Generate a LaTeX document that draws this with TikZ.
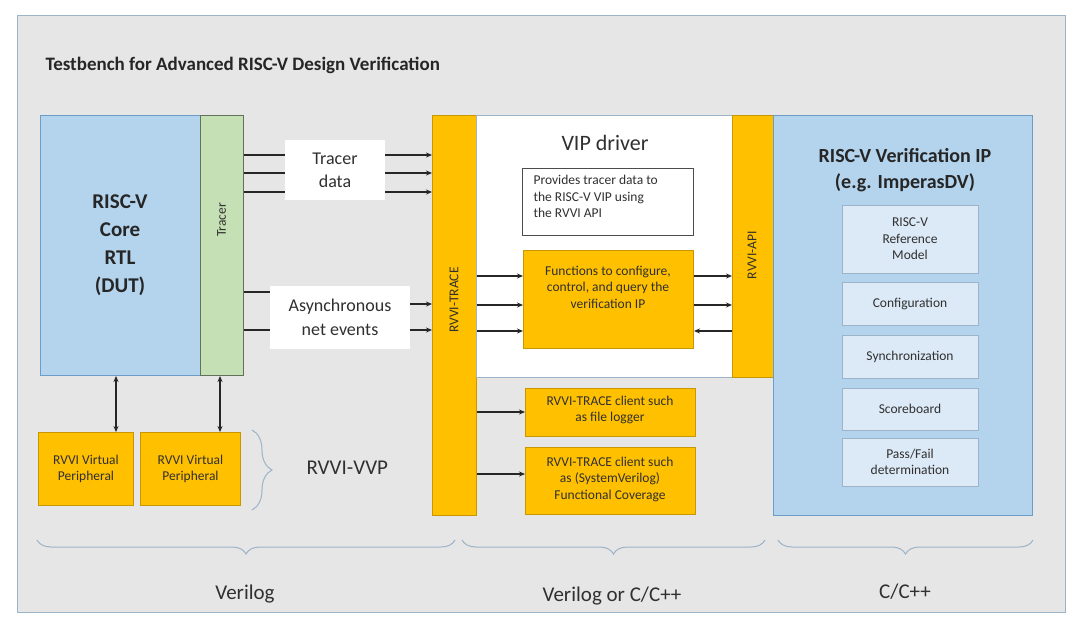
\documentclass[tikz,border=0pt]{standalone}
\usepackage{fontspec}
\setmainfont{Carlito}
\usetikzlibrary{arrows.meta,decorations.pathreplacing}
\definecolor{panel}{HTML}{E6E6E6}
\definecolor{edge}{HTML}{9DB3C8}
\definecolor{lblue}{HTML}{B4D4EE}
\definecolor{llblue}{HTML}{DCE9F6}
\definecolor{bblue}{HTML}{6E9CC8}
\definecolor{green}{HTML}{C5E0B4}
\definecolor{orng}{HTML}{FFC000}
\definecolor{orngd}{HTML}{C89600}
\definecolor{txt}{HTML}{303030}
\begin{document}
\begin{tikzpicture}[x=1pt,y=-1pt,
  box/.style={draw,line width=1pt,inner sep=0pt},
  sm/.style={font=\fontsize{13.5}{16.5}\selectfont,text=txt},
  ob/.style={box,fill=orng,draw=orngd,sm,align=center},
  ib/.style={box,fill=llblue,draw=edge,sm,align=center},
  arr/.style={-{Stealth[length=6pt,width=5pt]},line width=1.4pt,black!85},
  darr/.style={{Stealth[length=6pt,width=5pt]}-{Stealth[length=6pt,width=5pt]},line width=1.4pt,black!85},
  br/.style={decorate,decoration={brace,amplitude=14pt},draw=edge,line width=1pt},
  lab/.style={font=\fontsize{21}{24}\selectfont,text=txt}]
\useasboundingbox (0,0) rectangle (1080,633);
\fill[white] (0,0) rectangle (1080,633);
\node[box,fill=panel,draw=edge,minimum width=1048pt,minimum height=597pt,anchor=north west] (panel) at (17,15) {};
\node[anchor=west,font=\bfseries\fontsize{19}{22}\selectfont,text=black!85] (title) at (42,65) {Testbench for Advanced RISC-V Design Verification};
% core
\node[box,fill=lblue,draw=bblue,minimum width=160pt,minimum height=260pt,anchor=north west] (core) at (40,115) {};
\node[align=center,font=\bfseries\fontsize{21}{28}\selectfont,text=black!85] (coret) at (120,245) {RISC-V\\Core\\RTL\\(DUT)};
\node[box,fill=green,draw=black!50!green,minimum width=43pt,minimum height=260pt,anchor=north west] (tracer) at (200,115) {};
\node[rotate=90,sm] (tracert) at (221.5,220) {Tracer};
% RVVI-TRACE
\node[box,fill=orng,draw=orngd,minimum width=44pt,minimum height=400pt,anchor=north west] (trace) at (432,115) {};
\node[rotate=90,sm] (tracet) at (454,300) {RVVI-TRACE};
% VIP driver
\node[box,fill=white,draw=edge,minimum width=256pt,minimum height=262pt,anchor=north west] (vip) at (476,115) {};
\node[font=\fontsize{22}{26}\selectfont,text=txt] (vipt) at (605,143) {VIP driver};
\node[box,fill=white,draw=black!70,minimum width=171pt,minimum height=67pt,anchor=north west] (prov) at (522,168) {};
\node[anchor=north west,align=left,sm] (provt) at (530,172) {Provides tracer data to\\the RISC-V VIP using\\the RVVI API};
\node[ob,minimum width=170pt,minimum height=98pt,anchor=north west] (func) at (523,250) {};
\node[align=center,sm] (funct) at (608,287) {Functions to configure,\\control, and query the\\verification IP};
\node[box,fill=orng,draw=orngd,minimum width=41pt,minimum height=262pt,anchor=north west] (api) at (732,115) {};
\node[rotate=90,sm] (apit) at (752,255) {RVVI-API};
% clients
\node[ob,minimum width=170pt,minimum height=48pt,anchor=north west] (c1) at (525,388) {};
\node[align=center,sm] (c1t) at (610,410) {RVVI-TRACE client such\\as file logger};
\node[ob,minimum width=170pt,minimum height=67pt,anchor=north west] (c2) at (525,447) {};
\node[align=center,sm] (c2t) at (610,479) {RVVI-TRACE client such\\as (SystemVerilog)\\Functional Coverage};
% verification IP
\node[box,fill=lblue,draw=bblue,minimum width=259pt,minimum height=400pt,anchor=north west] (vipb) at (773,115) {};
\node[align=center,font=\bfseries\fontsize{20}{26}\selectfont,text=black!85] (vipbt) at (905,170) {RISC-V Verification IP\\(e.g. ImperasDV)};
\node[ib,minimum width=136pt,minimum height=68pt] (ref) at (910,239) {RISC-V\\Reference\\Model};
\node[ib,minimum width=136pt,minimum height=43pt] (conf) at (910,303.5) {Configuration};
\node[ib,minimum width=136pt,minimum height=43pt] (sync) at (910,356.5) {Synchronization};
\node[ib,minimum width=136pt,minimum height=42pt] (score) at (910,409) {Scoreboard};
\node[ib,minimum width=136pt,minimum height=48pt] (pass) at (910,462) {Pass/Fail\\determination};
% peripherals
\node[ob,minimum width=95pt,minimum height=73pt,anchor=north west] (p1) at (38,432) {RVVI Virtual\\Peripheral};
\node[ob,minimum width=100pt,minimum height=73pt,anchor=north west] (p2) at (140,432) {RVVI Virtual\\Peripheral};
\draw[darr] (core.south -| 116,0) -- (p1.north -| 116,0);
\draw[darr] (tracer.south -| 220,0) -- (p2.north -| 220,0);
% tracer arrows
\foreach \y in {155,173,192} \draw[arr] (tracer.east |- 0,\y) -- (trace.west |- 0,\y);
\node[box,fill=white,draw=none,minimum width=100pt,minimum height=60pt,align=center,font=\fontsize{18}{23}\selectfont,text=txt] (td) at (335,170) {Tracer\\data};
\draw[line width=1.4pt,black!85] (tracer.east |- 0,292) -- (270,292);
\draw[line width=1.4pt,black!85] (tracer.east |- 0,330) -- (270,330);
\draw[arr] (410,304) -- (trace.west |- 0,304);
\draw[arr] (410,330) -- (trace.west |- 0,330);
\node[box,fill=white,draw=none,minimum width=140pt,minimum height=63pt,align=center,font=\fontsize{18}{24}\selectfont,text=txt] (ae) at (340,317) {Asynchronous\\net events};
% driver arrows
\foreach \y in {276,305,331} \draw[arr] (trace.east |- 0,\y) -- (func.west |- 0,\y);
\draw[arr] (func.east |- 0,276) -- (api.west |- 0,276);
\draw[arr] (func.east |- 0,305) -- (api.west |- 0,305);
\draw[arr] (api.west |- 0,331) -- (func.east |- 0,331);
\draw[arr] (trace.east |- 0,412) -- (c1.west |- 0,412);
\draw[arr] (trace.east |- 0,474) -- (c2.west |- 0,474);
% braces
\draw[decorate,decoration={brace,amplitude=20pt},draw=edge,line width=1pt] (252,430) -- (252,510);
\node[lab,anchor=west] (vvp) at (303,468) {RVVI-VVP};
\draw[br] (455,540) -- (37,540);
\draw[br] (765,540) -- (462,540);
\draw[br] (1033,540) -- (778,540);
\node[lab] (v1) at (245,594) {Verilog};
\node[lab] (v2) at (612,596) {Verilog or C/C++};
\node[lab] (v3) at (905,592) {C/C++};
\end{tikzpicture}
\end{document}
